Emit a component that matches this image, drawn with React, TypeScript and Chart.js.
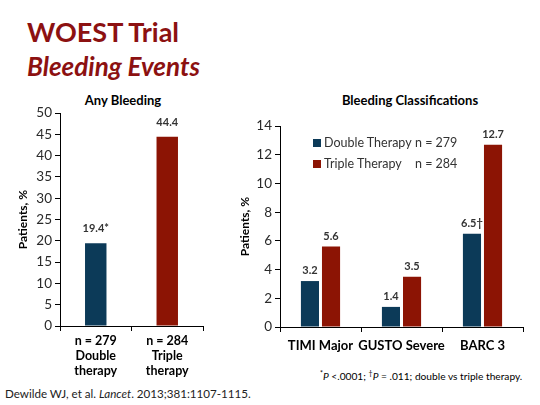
import React, { useEffect, useRef } from "react";
import { Chart, registerables } from "chart.js";
Chart.register(...registerables);

const FONT = "Lato, 'Open Sans', sans-serif";
const NAVY = "#0c3a58";
const RED = "#8c1404";
const TITLE_RED = "#8c1111";

// Left chart: Any Bleeding
const anyCategories = [["n = 279", "Double", "therapy"], ["n = 284", "Triple", "therapy"]];
const anyValues = [19.4, 44.4];
const anyValueText = ["19.4*", "44.4"];
const anyColors = [NAVY, RED];
const anyMax = 50;
const anyStep = 5;

// Right chart: Bleeding Classifications
const classCategories = ["TIMI Major", "GUSTO Severe", "BARC 3"];
const doubleValues = [3.2, 1.4, 6.5];
const doubleValueText = ["3.2", "1.4", "6.5\u2020"];
const tripleValues = [5.6, 3.5, 12.7];
const tripleValueText = ["5.6", "3.5", "12.7"];
const classMax = 14;
const classStep = 2;

const valueLabelPlugin = {
  id: "valueLabels",
  afterDatasetsDraw(chart: any) {
    const opts = chart.options.plugins.valueLabels || {};
    const gap = opts.gap ?? 6;
    const ctx = chart.ctx;
    ctx.save();
    ctx.font = `bold ${opts.size ?? 11}px ${FONT}`;
    ctx.fillStyle = "#333";
    ctx.textAlign = "center";
    ctx.textBaseline = "bottom";
    chart.data.datasets.forEach((ds: any, i: number) => {
      const meta = chart.getDatasetMeta(i);
      meta.data.forEach((bar: any, j: number) => {
        const t = ds.valueText?.[j];
        if (t) ctx.fillText(t, bar.x, bar.y - gap);
      });
    });
    ctx.restore();
  },
};

function makeScales(opts: {
  yWidth: number;
  xHeight: number;
  max: number;
  step: number;
  xFontSize: number;
  xPadding: number;
}) {
  return {
    x: {
      grid: { display: true, drawOnChartArea: false, drawTicks: true, tickLength: 5, color: "#000", lineWidth: 1 },
      border: { display: true, color: "#000", width: 1 },
      ticks: { color: "#000", font: { family: FONT, size: opts.xFontSize, weight: "bold" as const, lineHeight: 1.22 }, padding: opts.xPadding, maxRotation: 0, autoSkip: false },
      afterFit: (s: any) => { s.height = opts.xHeight; },
    },
    y: {
      min: 0,
      max: opts.max,
      grid: { display: true, drawOnChartArea: false, drawTicks: true, tickLength: 5, color: "#000", lineWidth: 1 },
      border: { display: true, color: "#000", width: 1 },
      ticks: { stepSize: opts.step, color: "#2a2a2a", font: { family: FONT, size: 13.5 }, padding: 3 },
      title: { display: true, text: "Patients, %", color: "#000", font: { family: FONT, size: 12, weight: "bold" as const }, padding: { top: 0, bottom: 0 } },
      afterFit: (s: any) => { s.width = opts.yWidth; },
    },
  };
}

function AnyChart() {
  const ref = useRef<HTMLCanvasElement>(null);
  useEffect(() => {
    const chart = new Chart(ref.current!, {
      type: "bar",
      data: {
        labels: anyCategories as any,
        datasets: [
          {
            data: anyValues,
            backgroundColor: anyColors,
            categoryPercentage: 1,
            barPercentage: 0.3,
            valueText: anyValueText,
          } as any,
        ],
      },
      options: {
        animation: false,
        responsive: false,
        maintainAspectRatio: false,
        layout: { padding: { left: 16, right: 12, top: 21, bottom: 0 } },
        plugins: { legend: { display: false }, tooltip: { enabled: false }, valueLabels: { gap: 9, size: 11 } } as any,
        scales: makeScales({ yWidth: 44, xHeight: 59, max: anyMax, step: anyStep, xFontSize: 12.5, xPadding: 2 }) as any,
      },
      plugins: [valueLabelPlugin],
    });
    return () => chart.destroy();
  }, []);
  return <canvas ref={ref} width={215} height={293} style={{ position: "absolute", left: 0, top: 92, width: 215, height: 293 }} />;
}

function ClassChart() {
  const ref = useRef<HTMLCanvasElement>(null);
  useEffect(() => {
    const chart = new Chart(ref.current!, {
      type: "bar",
      data: {
        labels: classCategories,
        datasets: [
          { label: "Double Therapy", data: doubleValues, backgroundColor: NAVY, categoryPercentage: 0.52, barPercentage: 0.86, valueText: doubleValueText } as any,
          { label: "Triple Therapy", data: tripleValues, backgroundColor: RED, categoryPercentage: 0.52, barPercentage: 0.86, valueText: tripleValueText } as any,
        ],
      },
      options: {
        animation: false,
        responsive: false,
        maintainAspectRatio: false,
        layout: { padding: { left: 6, right: 12, top: 34, bottom: 0 } },
        plugins: { legend: { display: false }, tooltip: { enabled: false }, valueLabels: { gap: 5, size: 11 } } as any,
        scales: makeScales({ yWidth: 42, xHeight: 35, max: classMax, step: classStep, xFontSize: 13, xPadding: 6 }) as any,
      },
      plugins: [valueLabelPlugin],
    });
    return () => chart.destroy();
  }, []);
  return <canvas ref={ref} width={303} height={270} style={{ position: "absolute", left: 232, top: 92, width: 303, height: 270 }} />;
}

const abs = (s: React.CSSProperties): React.CSSProperties => ({ position: "absolute", whiteSpace: "nowrap", ...s });

export default function App() {
  return (
    <div style={{ position: "fixed", left: 0, top: 0, width: 540, height: 405, background: "#fff", fontFamily: FONT, overflow: "hidden" }}>
      <div style={abs({ left: 27, top: 16, fontSize: 27, fontWeight: 700, color: TITLE_RED, lineHeight: "32px" })}>WOEST Trial</div>
      <div style={abs({ left: 27, top: 50, fontSize: 26, fontWeight: 700, fontStyle: "italic", color: TITLE_RED, lineHeight: "32px" })}>Bleeding Events</div>

      <div style={abs({ left: 123, top: 92, transform: "translateX(-50%)", fontSize: 13, fontWeight: 700, color: "#000", lineHeight: "16px" })}>Any Bleeding</div>
      <div style={abs({ left: 410, top: 92, transform: "translateX(-50%)", fontSize: 13, fontWeight: 700, color: "#000", lineHeight: "16px" })}>Bleeding Classifications</div>

      <AnyChart />
      <ClassChart />

      <div style={abs({ left: 313, top: 139, width: 8, height: 8, background: NAVY })} />
      <div style={abs({ left: 313, top: 160, width: 8, height: 8, background: RED })} />
      <div style={abs({ left: 324, top: 135, fontSize: 12.5, color: "#333", lineHeight: "16px" })}>Double Therapy</div>
      <div style={abs({ left: 324, top: 156, fontSize: 12.5, color: "#333", lineHeight: "16px" })}>Triple Therapy</div>
      <div style={abs({ left: 415, top: 135, fontSize: 12.5, color: "#333", lineHeight: "16px" })}>n = 279</div>
      <div style={abs({ left: 415, top: 156, fontSize: 12.5, color: "#333", lineHeight: "16px" })}>n = 284</div>

      <div style={abs({ left: 320, top: 365, fontSize: 10.2, color: "#000", lineHeight: "16px" })}>
        <sup style={{ fontSize: 7 }}>*</sup><i>P</i> &lt;.0001; <sup style={{ fontSize: 7 }}>{"\u2020"}</sup><i>P</i> = .011; double vs triple therapy.
      </div>
      <div style={abs({ left: 5, top: 386, fontSize: 11.6, color: "#222", lineHeight: "16px" })}>
        Dewilde WJ, et al. <i>Lancet</i>. 2013;381:1107-1115.
      </div>
    </div>
  );
}
